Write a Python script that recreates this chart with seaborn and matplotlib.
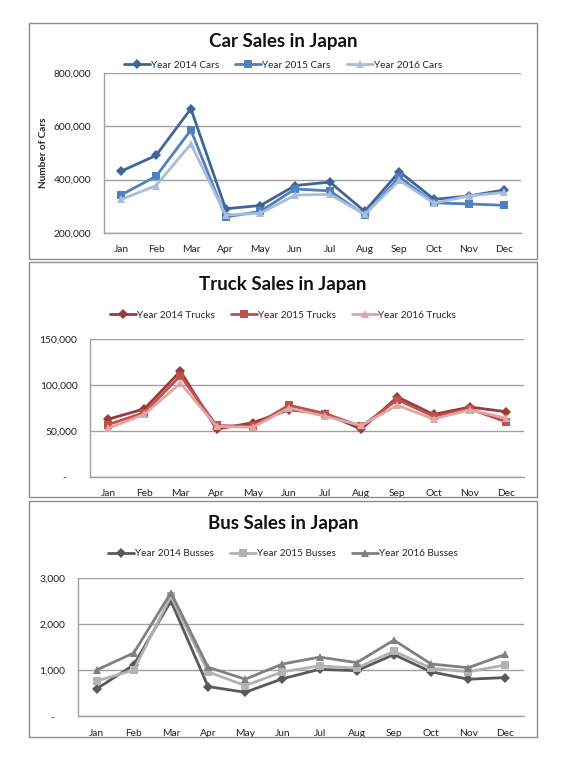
import pandas as pd
import matplotlib
matplotlib.use('Agg')
import matplotlib.pyplot as plt
import seaborn as sns
from matplotlib.patches import Rectangle
from matplotlib.ticker import FuncFormatter

# Data
months = ['Jan', 'Feb', 'Mar', 'Apr', 'May', 'Jun', 'Jul', 'Aug', 'Sep', 'Oct', 'Nov', 'Dec']

cars_2014 = [432000, 491000, 666000, 291000, 303000, 378000, 391000, 281000, 430000, 326000, 339000, 361000]
cars_2015 = [343000, 413000, 586000, 260000, 281000, 365000, 358000, 268000, 410000, 313000, 309000, 304000]
cars_2016 = [326000, 378000, 534000, 268000, 274000, 342000, 345000, 270000, 397000, 312000, 339000, 352000]

trucks_2014 = [62800, 74000, 115000, 52000, 59000, 73000, 69000, 52000, 87000, 68000, 76000, 71000]
trucks_2015 = [57000, 70000, 110000, 56000, 55000, 78000, 69000, 55000, 84000, 66000, 74000, 60000]
trucks_2016 = [53000, 68000, 102000, 55000, 54000, 75000, 66000, 56000, 78000, 63000, 73000, 64000]

busses_2014 = [590, 1110, 2500, 640, 515, 810, 1015, 985, 1335, 960, 800, 835]
busses_2015 = [760, 1000, 2600, 960, 660, 960, 1090, 1040, 1410, 1040, 960, 1110]
busses_2016 = [1000, 1370, 2680, 1060, 800, 1130, 1280, 1160, 1650, 1130, 1050, 1340]

sns.set_theme(style='white')
plt.rcParams['font.family'] = ['Lato', 'DejaVu Sans']

W, H = 569, 768
fig = plt.figure(figsize=(W / 100, H / 100), dpi=100)


def px_axes(left, top, right, bottom):
    return fig.add_axes([left / W, 1 - bottom / H, (right - left) / W, (bottom - top) / H])


def panel_frame(top, bottom):
    fig.patches.append(Rectangle((29 / W, 1 - bottom / H), (537 - 29) / W, (bottom - top) / H,
                                 transform=fig.transFigure, fill=False, edgecolor='#8c8c8c',
                                 linewidth=1.0))


def fmt(v, pos):
    if v == 0:
        return '-    '
    return f'{int(v):,}'


def draw_panel(ax, series, labels, colors, title, ylim, yticks, title_y, legend_y, ylabel=None):
    frames = []
    for vals, lab in zip(series, labels):
        frames.append(pd.DataFrame({'Month': months, 'Sales': vals, 'Series': lab}))
    df = pd.concat(frames, ignore_index=True)
    sns.lineplot(data=df, x='Month', y='Sales', hue='Series', style='Series',
                 palette=dict(zip(labels, colors)), markers=['D', 's', '^'],
                 dashes=False, sort=False, linewidth=2.0, markersize=5.5,
                 markeredgewidth=0, ax=ax, legend=True)
    ax.set_xlim(-0.5, 11.5)
    ax.set_ylim(*ylim)
    ax.set_yticks(yticks)
    ax.yaxis.set_major_formatter(FuncFormatter(fmt))
    ax.grid(axis='y', color='#a0a0a0', linewidth=1.0)
    ax.set_axisbelow(True)
    for s in ['top', 'right']:
        ax.spines[s].set_visible(False)
    for s in ['left', 'bottom']:
        ax.spines[s].set_color('#a0a0a0')
        ax.spines[s].set_linewidth(1.0)
    ax.tick_params(axis='both', length=0, labelsize=7.4, colors='#222222')
    ax.tick_params(axis='y', pad=9)
    ax.tick_params(axis='x', pad=9)
    ax.set_xlabel('')
    if ylabel:
        ax.set_ylabel(ylabel, fontsize=7.2, fontweight='bold', labelpad=4)
    else:
        ax.set_ylabel('')
    handles, labs = ax.get_legend_handles_labels()
    ax.get_legend().remove()
    fig.legend(handles, labs, loc='center', bbox_to_anchor=(283 / W, 1 - legend_y / H),
               ncol=3, frameon=False, fontsize=7.2, handlelength=2.6, handletextpad=0.1,
               columnspacing=1.6)
    fig.text(283 / W, 1 - title_y / H, title, ha='center', va='center',
             fontsize=13.5, fontweight='bold', color='#111111')


panel_frame(23, 259)
panel_frame(262, 497)
panel_frame(501, 737)

ax1 = px_axes(104, 73, 521, 233)
draw_panel(ax1, [cars_2014, cars_2015, cars_2016],
           ['Year 2014 Cars', 'Year 2015 Cars', 'Year 2016 Cars'],
           ['#3f6699', '#4f81bd', '#a9bcdc'], 'Car Sales in Japan',
           (200000, 800000), [200000, 400000, 600000, 800000], 41, 65, ylabel='Number of Cars')

ax2 = px_axes(90, 339, 524, 477)
draw_panel(ax2, [trucks_2014, trucks_2015, trucks_2016],
           ['Year 2014 Trucks', 'Year 2015 Trucks', 'Year 2016 Trucks'],
           ['#9b3a38', '#c0504d', '#dca7a6'], 'Truck Sales in Japan',
           (0, 150000), [0, 50000, 100000, 150000], 284, 315)

ax3 = px_axes(78, 578, 524, 716)
draw_panel(ax3, [busses_2014, busses_2015, busses_2016],
           ['Year 2014 Busses', 'Year 2015 Busses', 'Year 2016 Busses'],
           ['#595959', '#b2b2b2', '#808080'], 'Bus Sales in Japan',
           (0, 3000), [0, 1000, 2000, 3000], 523, 554)

fig.savefig('out.png', dpi=100)
